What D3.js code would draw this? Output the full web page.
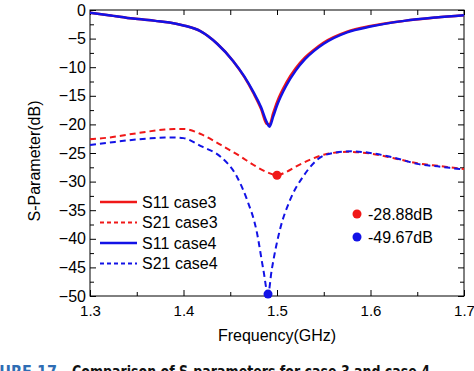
<!DOCTYPE html>
<html>
<head>
<meta charset="utf-8">
<script src="https://cdn.jsdelivr.net/npm/d3@7"></script>
<style>
  body { margin: 0; background: #fff; }
  svg { display: block; font-family: "Liberation Sans", Arial, sans-serif; }
</style>
</head>
<body>
<script>
// S11 curves (both cases share the same frequency samples)
var s11Freq = [1.30, 1.32, 1.346, 1.37, 1.385, 1.40, 1.418, 1.436, 1.453, 1.465, 1.475, 1.483, 1.489, 1.492, 1.496, 1.50, 1.51, 1.52, 1.53, 1.54, 1.55, 1.575, 1.60, 1.636, 1.67, 1.70];
var s11Case3 = [-0.5, -0.9, -1.5, -1.9, -2.2, -2.7, -3.7, -5.9, -8.9, -11.7, -14.6, -17.3, -19.9, -20.0, -18.0, -16.1, -12.7, -10.2, -8.3, -6.9, -5.7, -3.8, -2.8, -1.9, -1.3, -0.9];
var s11Case4 = [-0.5, -0.9, -1.5, -1.9, -2.2, -2.7, -3.7, -5.9, -8.9, -11.6, -14.4, -17.0, -19.6, -20.4, -18.6, -16.7, -13.2, -10.6, -8.6, -7.1, -5.9, -3.9, -2.9, -1.9, -1.3, -0.9];

// S21 case3
var s21c3Freq = [1.30, 1.32, 1.34, 1.36, 1.38, 1.39, 1.40, 1.42, 1.44, 1.46, 1.475, 1.49, 1.50, 1.51, 1.52, 1.535, 1.55, 1.575, 1.60, 1.625, 1.65, 1.675, 1.70];
var s21Case3 = [-22.6, -22.3, -21.8, -21.3, -20.9, -20.8, -20.8, -21.8, -23.6, -25.5, -27.1, -28.4, -28.88, -28.3, -27.4, -26.2, -25.3, -24.8, -25.1, -25.9, -26.8, -27.3, -27.8];

// S21 case4
var s21c4Freq = [1.30, 1.32, 1.34, 1.36, 1.38, 1.39, 1.40, 1.42, 1.44, 1.457, 1.468, 1.478, 1.4855, 1.4904, 1.4943, 1.503, 1.514, 1.528, 1.546, 1.56, 1.58, 1.60, 1.625, 1.65, 1.675, 1.70];
var s21Case4 = [-23.6, -23.2, -22.8, -22.5, -22.3, -22.3, -22.4, -23.9, -25.7, -29.1, -33.2, -38.5, -45.5, -49.67, -45.5, -38.5, -33.2, -29.1, -25.8, -25.0, -24.7, -25.0, -25.8, -26.9, -27.4, -27.9];

// marked minima
var markFreq = [1.50, 1.4904];
var markVal = [-28.88, -49.67];
var markLabels = ["-28.88dB", "-49.67dB"];

var xTicks = [1.3, 1.4, 1.5, 1.6, 1.7];
var xMinor = [1.35, 1.45, 1.55, 1.65];
var yTicks = [0, -5, -10, -15, -20, -25, -30, -35, -40, -45, -50];
var yMinor = d3.range(-2.5, -50, -5);

var seriesNames = ["S11 case3", "S21 case3", "S11 case4", "S21 case4"];
var red = "#f01818", blue = "#1212e6";

var W = 474, H = 371;
var margin = {top: 10, right: 10, bottom: 75, left: 90};
var width = W - margin.left - margin.right;
var height = H - margin.top - margin.bottom;

var svg = d3.select("body").append("svg")
    .attr("width", W)
    .attr("height", H);

var g = svg.append("g")
    .attr("transform", `translate(${margin.left},${margin.top})`);

var x = d3.scaleLinear().domain([1.3, 1.7]).range([0, width]);
var y = d3.scaleLinear().domain([-50, 0]).range([height, 0]);

function styleAxis(size) {
  return sel => {
    sel.attr("font-family", null).attr("font-size", null);
    sel.select(".domain").remove();
    sel.selectAll("line").attr("stroke", "#000").attr("stroke-width", 1);
    sel.selectAll("text").attr("fill", "#000").style("font-size", size + "px");
  };
}

// major + minor ticks on all four sides, pointing inward
g.append("g").attr("transform", `translate(0,${height})`)
    .call(d3.axisBottom(x).tickValues(xTicks).tickSize(-6).tickPadding(9).tickFormat(d3.format(".1f")))
    .call(styleAxis(15));
g.append("g").attr("transform", `translate(0,${height})`)
    .call(d3.axisBottom(x).tickValues(xMinor).tickSize(-4).tickFormat(""))
    .call(styleAxis(15));
g.append("g")
    .call(d3.axisTop(x).tickValues(xTicks.concat(xMinor)).tickSize(-5).tickFormat(""))
    .call(styleAxis(15));
g.append("g")
    .call(d3.axisLeft(y).tickValues(yTicks).tickSize(-6).tickPadding(4).tickFormat(d3.format("d")))
    .call(styleAxis(16));
g.append("g")
    .call(d3.axisLeft(y).tickValues(yMinor).tickSize(-4).tickFormat(""))
    .call(styleAxis(16));
g.append("g").attr("transform", `translate(${width},0)`)
    .call(d3.axisRight(y).tickValues(yTicks).tickSize(-6).tickFormat(""))
    .call(styleAxis(16));
g.append("g").attr("transform", `translate(${width},0)`)
    .call(d3.axisRight(y).tickValues(yMinor).tickSize(-4).tickFormat(""))
    .call(styleAxis(16));

g.append("rect")
    .attr("width", width)
    .attr("height", height)
    .attr("fill", "none")
    .attr("stroke", "#000")
    .attr("stroke-width", 1);

var line = d3.line()
    .x(d => x(d[0]))
    .y(d => y(d[1]))
    .curve(d3.curveMonotoneX);

var series = [
  {freq: s11Freq, vals: s11Case3, color: red, dash: null},
  {freq: s21c3Freq, vals: s21Case3, color: red, dash: "6,4"},
  {freq: s11Freq, vals: s11Case4, color: blue, dash: null},
  {freq: s21c4Freq, vals: s21Case4, color: blue, dash: "6,4"}
];

g.append("g")
  .selectAll("path")
  .data(series)
  .enter()
  .append("path")
    .attr("fill", "none")
    .attr("stroke", d => d.color)
    .attr("stroke-width", d => d.dash ? 2 : 2.5)
    .attr("stroke-dasharray", d => d.dash)
    .attr("d", d => line(d.freq.map((f, i) => [f, d.vals[i]])));

// minimum markers
g.append("g")
  .selectAll("circle")
  .data(markFreq)
  .enter()
  .append("circle")
    .attr("cx", d => x(d))
    .attr("cy", (d, i) => y(markVal[i]))
    .attr("r", 4.5)
    .attr("fill", (d, i) => i ? blue : red);

// legend
var legend = g.append("g")
    .attr("transform", "translate(10,192)");
var leg = legend.selectAll("g")
  .data(series)
  .enter()
  .append("g")
    .attr("transform", (d, i) => `translate(0,${i * 20.5})`);
leg.append("line")
    .attr("x1", 0).attr("x2", 37)
    .attr("stroke", d => d.color)
    .attr("stroke-width", d => d.dash ? 2 : 2.5)
    .attr("stroke-dasharray", d => d.dash ? "4,3" : null);
leg.append("text")
    .attr("x", 42)
    .attr("dy", "0.35em")
    .style("font-size", "16px")
    .text((d, i) => seriesNames[i]);

// marker annotation
var ann = g.append("g")
    .attr("transform", "translate(267,204)");
var annRow = ann.selectAll("g")
  .data(markLabels)
  .enter()
  .append("g")
    .attr("transform", (d, i) => `translate(0,${i * 23})`);
annRow.append("circle")
    .attr("r", 4.5)
    .attr("fill", (d, i) => i ? blue : red);
annRow.append("text")
    .attr("x", 11)
    .attr("dy", "0.35em")
    .style("font-size", "16px")
    .text(d => d);

// axis titles
svg.append("text")
    .attr("x", margin.left + width / 2)
    .attr("y", 341)
    .attr("text-anchor", "middle")
    .style("font-size", "16px")
    .text("Frequency(GHz)");
svg.append("text")
    .attr("transform", "translate(40,161) rotate(-90)")
    .attr("text-anchor", "middle")
    .style("font-size", "16px")
    .text("S-Parameter(dB)");

// figure caption, cut by the bottom edge as in the source
svg.append("text")
    .attr("x", 57)
    .attr("y", 377)
    .attr("text-anchor", "end")
    .attr("fill", "#2e6db4")
    .style("font-family", "'DejaVu Sans Condensed', 'Liberation Sans Narrow', sans-serif")
    .style("font-weight", "bold")
    .style("font-size", "16px")
    .text("FIGURE 17");
svg.append("text")
    .attr("x", 72)
    .attr("y", 377)
    .attr("textLength", 358)
    .attr("lengthAdjust", "spacingAndGlyphs")
    .attr("fill", "#111")
    .style("font-family", "'DejaVu Sans Condensed', 'Liberation Sans Narrow', sans-serif")
    .style("font-weight", "bold")
    .style("font-size", "16px")
    .text("Comparison of S-parameters for case 3 and case 4");
</script>
</body>
</html>
